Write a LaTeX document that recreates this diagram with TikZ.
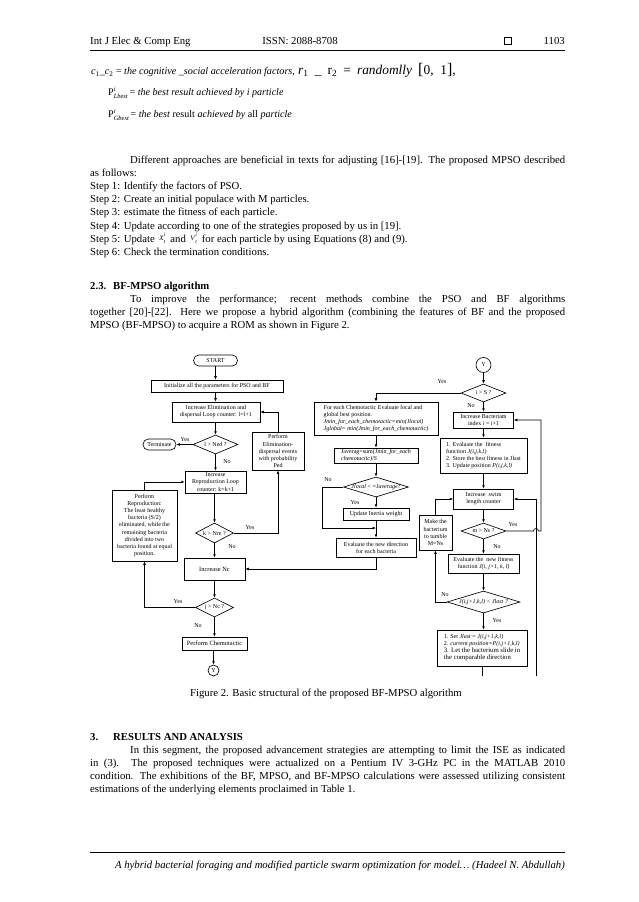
\documentclass[tikz,border=0pt]{standalone}
\usepackage{fontspec}
\setmainfont{Liberation Serif}
\usetikzlibrary{arrows.meta,shapes.geometric}
\newcommand\xvar[1]{\raisebox{2pt}{$\hbox{\fontsize{6.5}{7}\selectfont\textit{#1}}^{\hbox{\fontsize{5}{6}\selectfont\textit{i}}}_{\hbox{\fontsize{5}{6}\selectfont\textit{t}}}$}}
\newcommand\Pvar[1]{P\rlap{\raisebox{4.4pt}{\fontsize{6}{7}\selectfont\textit{i}}}\raisebox{-2.6pt}{\fontsize{6}{7}\selectfont\textit{#1}}}
\begin{document}
\begin{tikzpicture}[x=0.9326pt,y=-0.9326pt,
  txt/.style={anchor=base west, inner sep=0pt, font=\fontsize{10}{12}\selectfont},
  fc/.style={font=\fontsize{5.6}{6.6}\selectfont},
  sz/.style 2 args={minimum width=#1*0.9326pt, minimum height=#2*0.9326pt},
  box/.style={draw, line width=0.6pt, fc, align=center, inner sep=0.5pt},
  lbox/.style={box, align=left},
  stad/.style={box, rounded corners=5pt},
  dia/.style={draw, diamond, line width=0.6pt, inner sep=0pt},
  circ/.style={draw, circle, line width=0.6pt, inner sep=0pt, fc},
  lab/.style={fc, inner sep=0pt},
  arr/.style={line width=0.6pt, -{Latex[length=3.2pt,width=2.6pt]}},
  ln/.style={line width=0.6pt}
]
\fill[white, use as bounding box] (0,0) rectangle (638,902);

% header
\node[txt] (hd1) at (90,45) {Int J Elec \& Comp Eng};
\node[txt,anchor=base] (hd2) at (300,45) {ISSN: 2088-8708};
\node[txt,anchor=base east] (hd3) at (565,45) {1103};
\draw[line width=0.8pt] (504,37.5) rectangle (511,44.5);
\draw[line width=0.7pt] (90,50.5) -- (565,50.5);

% equations
\node[txt,font=\fontsize{9.5}{11}\selectfont] (eq1) at (91,75) {\makebox[190pt][s]{\textit{c}\textsubscript{1}\_\textit{c}\textsubscript{2} = \textit{the cognitive \_social acceleration factors},}};
\node[txt,font=\fontsize{12.5}{14}\selectfont] (eq2) at (298,75) {\makebox[147pt][s]{\textit{r}\textsubscript{1} \_ r\textsubscript{2} = \textit{randomlly} {\fontsize{15}{15}\selectfont[}0, 1{\fontsize{15}{15}\selectfont]},}};
\node[txt,font=\fontsize{9.4}{11}\selectfont] (eq3) at (108,96) {\Pvar{Lbest}\,= \textit{the best result achieved by i particle}};
\node[txt,font=\fontsize{9.4}{11}\selectfont] (eq4) at (108,118) {\Pvar{Gbest}\,= \textit{the best} result \textit{achieved by} all \textit{particle}};

% paragraph
\node[txt] (p1) at (130,164) {\makebox[405.7pt][s]{Different approaches are beneficial in texts for adjusting [16]-[19]. The proposed MPSO described}};
\node[txt] (p2) at (90,177) {as follows:};
\node[txt] (s1) at (90,190) {Step 1: Identify the factors of PSO.};
\node[txt] (s2) at (90,203) {Step 2: Create an initial populace with M particles.};
\node[txt] (s3) at (90,216) {Step 3: estimate the fitness of each particle.};
\node[txt] (s4) at (90,229) {Step 4: Update according to one of the strategies proposed by us in [19].};
\node[txt] (s5) at (90,242.5) {Step 5: Update \,\xvar{X}\, and \,\xvar{V}\, for each particle by using Equations (8) and (9).};
\node[txt] (s6) at (90,255.5) {Step 6: Check the termination conditions.};

\node[txt] (h23a) at (90,289) {\textbf{2.3.}};
\node[txt] (h23b) at (113,289) {\textbf{BF-MPSO algorithm}};
\node[txt] (q1) at (130,302) {\makebox[405.7pt][s]{To improve the performance; recent methods combine the PSO and BF algorithms}};
\node[txt] (q2) at (90,315) {\makebox[443pt][s]{together [20]-[22]. Here we propose a hybrid algorithm (combining the features of BF and the proposed}};
\node[txt] (q3) at (90,328) {MPSO (BF-MPSO) to acquire a ROM as shown in Figure 2.};

% ---------------- flowchart ----------------
% left column
\node[stad, sz={44}{11}] (start) at (215.5,360.5) {START};
\node[box, sz={132}{12}] (init) at (217,386) {Initialize all the parameters for PSO and BF};
\node[box, sz={88}{20}] (elim) at (216,412) {Increase Elimination and\\dispersal Loop counter: l=l+1};
\node[dia, sz={45}{19}, label={[fc]center:l > Ned ?}] (d1) at (215.5,444.5) {};
\node[stad, sz={33}{11}] (term) at (159.5,444.5) {Terminate};
\node[box, sz={61}{22}] (repro) at (215.5,482) {Increase\\Reproduction Loop\\counter: k=k+1};
\node[box, sz={52}{38}] (pelim) at (278,451) {Perform\\Elimination-\\dispersal events\\with probability\\Ped};
\node[box, sz={65}{71}] (prep) at (144.5,525.5) {Perform\\Reproduction:\\The least healthy\\bacteria (S/2)\\eliminated, while the\\remaining bacteria\\divided into two\\bacteria found at equal\\position.};
\node[dia, sz={38}{20}, label={[fc]center:k > Nre ?}] (d2) at (214.5,533) {};
\node[box, sz={61}{22}, font=\fontsize{6}{7}\selectfont] (incnc) at (214.5,569) {Increase Nc};
\node[dia, sz={38}{19}, label={[fc]center:j > Nc ?}] (d3) at (214.5,607.5) {};
\node[box, sz={65}{13}, font=\fontsize{6}{7}\selectfont] (pchem) at (214.5,643.5) {Perform Chemotactic};
\node[circ, minimum size=11*0.9326pt] (yl) at (213.5,670.5) {Y};

% middle column
\node[lbox, sz={124}{33}] (fec) at (376,418.5) {For each Chemotactic Evaluate local and\\global best position.\\\textit{Jmin\_for\_each\_chemotactic=min(Jlocal)}\\\textit{Jglobal= min(Jmin\_for\_each\_chemotactic)}};
\node[lbox, sz={84}{15}] (jav) at (376,455.5) {Javerag=sum(\textit{Jmin\_for\_each}\\\textit{chemotactic)/S}};
\node[dia, sz={65}{20}, label={[fc]center:\textit{Jlocal} < =\textit{Javerage}?}] (d4) at (376,487) {};
\node[box, sz={66}{12}] (upd) at (376,514) {Update Inertia weight};
\node[box, sz={80}{19}] (evd) at (376,547.5) {Evaluate the new direction\\for each bacteria};

% right column
\node[circ, minimum size=15*0.9326pt] (yr) at (483.5,365) {Y};
\node[dia, sz={45}{18}, label={[fc]center:i > S ?}] (d5) at (483.5,393) {};
\node[box, sz={60}{16}] (bidx) at (483.5,420) {Increase Bacteriam\\index i = i+1};
\node[lbox, sz={87}{35}] (evf) at (483.5,455.5) {1. Evaluate the \ fitness\\function \textit{J(i,j,k,l)}\\2. Store the best fitness in Jlast\\3. Update position \textit{P(i,j,k,l)}};
\node[box, sz={60}{20}] (swim) at (483.5,499) {Increase \ swim\\length counter};
\node[dia, sz={45}{16}, label={[fc]center:m > Ns ?}] (d6) at (483.5,531) {};
\node[box, sz={71}{19}] (evn) at (483.5,563.5) {Evaluate the \ new fitness\\function \textit{J(i, j+1, k, l)}};
\node[dia, sz={73}{22}, label={[fc]center:\textit{J(i,j+1,k,l) < Jlast ?}}] (d7) at (483.5,602) {};
\node[box, sz={33}{35}] (tumble) at (435.5,532.5) {Make the\\bacterium\\to tumble\\M=Ns};
\node[lbox, sz={90}{36}] (setb) at (482,648) {1. Set \textit{Jlast} = \textit{J(i,j+1,k,l)}\\2. \textit{current position=P(i,j+1,k,l)}\\{\fontsize{6.3}{7.4}\selectfont 3. Let the bacterium slide in}\\{\fontsize{6.3}{7.4}\selectfont the comparable direction}};

% labels
\node[lab] (l1y) at (185,440) {Yes};
\node[lab] (l1n) at (227,462) {No};
\node[lab] (l2y) at (250,528) {Yes};
\node[lab] (l2n) at (232,547) {No};
\node[lab] (l3y) at (178,602) {Yes};
\node[lab] (l3n) at (198,626) {No};
\node[lab] (l4n) at (328,480) {No};
\node[lab] (l4y) at (355,503) {Yes};
\node[lab] (l5y) at (442,382) {Yes};
\node[lab] (l5n) at (471,406) {No};
\node[lab] (l6y) at (513,525) {Yes};
\node[lab] (l6n) at (497,547) {No};
\node[lab] (l7n) at (445,595) {No};
\node[lab] (l7y) at (497,621) {Yes};

% coordinates
\coordinate (c4) at (322,528);
\coordinate (j4) at (376,528);
\coordinate (hopL) at (533.5,531);
\coordinate (ob) at (541,531);
\coordinate (ib) at (536,676);
\coordinate (sb) at (482,676);

% connectors left
\draw[arr] (start.south) -- (start.south |- init.north);
\draw[arr] (init.south -| start) -- (start |- elim.north);
\draw[arr] (elim.south -| start) -- (d1.north);
\draw[arr] (d1.west) -- (term.east);
\draw[arr] (d1.south) -- (d1.south |- repro.north);
\draw[arr] (repro.south -| d2) -- (d2.north);
\draw[arr] (d2.south) -- (d2.south |- incnc.north);
\draw[arr] (incnc.south -| d3) -- (d3.north);
\draw[arr] (d3.south) -- (d3.south |- pchem.north);
\draw[arr] (pchem.south -| yl) -- (yl.north);
\draw[arr] (d2.east) -| (pelim.south);
\draw[arr] (pelim.north) |- (elim.east);
\draw[arr] (d3.west) -| (prep.south);
\draw[arr] (prep.north) |- (repro.west);
% middle
\draw[arr] (d5.west) -| (fec.north);
\draw[arr] (fec.south) -- (jav.north);
\draw[arr] (jav.south) -- (d4.north);
\draw[arr] (d4.south) -- (upd.north);
\draw[arr] (upd.south) -- (evd.north);
\draw[arr] (d4.west) -| (c4) -- (j4);
\draw[arr] (evd.south) |- (incnc.east);
% right
\draw[arr] (yr.south) -- (d5.north);
\draw[arr] (d5.south) -- (bidx.north);
\draw[arr] (bidx.south) -- (evf.north);
\draw[arr] (evf.south) -- (swim.north);
\draw[arr] (swim.south) -- (d6.north);
\draw[arr] (d6.south) -- (evn.north);
\draw[arr] (evn.south) -- (d7.north);
\draw[arr] (d7.south) -- (d7.south |- setb.north);
\draw[ln] (setb.south -| sb) -- (sb);
\draw[arr] (d7.west) -| (tumble.south);
\draw[arr] (tumble.north) |- (swim.west);
\draw[arr] (ib) |- (swim.east);
\draw[arr] (d6.east) -- (hopL) arc[start angle=180, end angle=360, radius=2.5] -- (ob) |- (bidx.east);

% caption
\node[txt,anchor=base] (cap) at (326,696) {Figure 2. Basic structural of the proposed BF-MPSO algorithm};

% section 3
\node[txt] (h3a) at (90,740) {\textbf{3.}};
\node[txt] (h3b) at (113,740) {\textbf{RESULTS AND ANALYSIS}};
\node[txt] (r1) at (130,753) {\makebox[405.7pt][s]{In this segment, the proposed advancement strategies are attempting to limit the ISE as indicated}};
\node[txt] (r2) at (90,766) {\makebox[443pt][s]{in (3). The proposed techniques were actualized on a Pentium IV 3-GHz PC in the MATLAB 2010}};
\node[txt] (r3) at (90,779) {\makebox[443pt][s]{condition. The exhibitions of the BF, MPSO, and BF-MPSO calculations were assessed utilizing consistent}};
\node[txt] (r4) at (90,792) {estimations of the underlying elements proclaimed in Table 1.};

% footer
\draw[line width=0.7pt] (90,852) -- (565,852);
\node[txt,anchor=base east,font=\fontsize{10}{12}\selectfont\itshape] (ft) at (565,868) {A hybrid bacterial foraging and modified particle swarm optimization for model… (Hadeel N. Abdullah)};
\end{tikzpicture}
\end{document}
